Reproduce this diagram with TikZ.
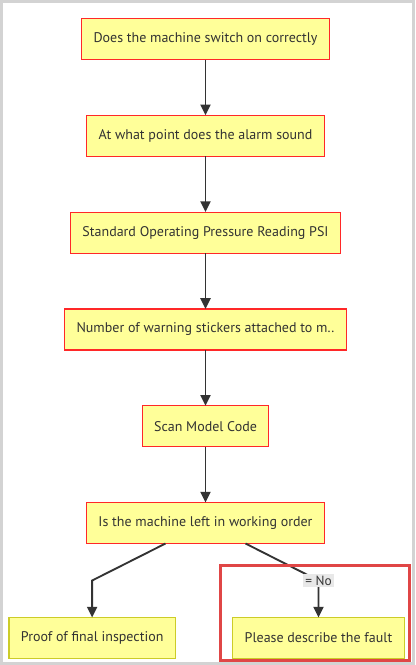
\documentclass[tikz,border=0pt]{standalone}
\usepackage{fontspec}
\setmainfont{PT Sans}
\usepackage{tikz}
\usetikzlibrary{arrows.meta, positioning}
\definecolor{qFill}{RGB}{255,255,153}
\definecolor{qRed}{RGB}{255,40,40}
\definecolor{leafLine}{RGB}{204,204,40}
\definecolor{textGray}{RGB}{51,51,51}
\definecolor{hiRed}{RGB}{224,70,70}
\definecolor{frameGray}{RGB}{211,211,211}

\begin{document}
\begin{tikzpicture}[
  x=0.75pt, y=-0.75pt,
  node distance=41.85pt,
  q/.style={rectangle, draw=qRed, line width=0.9pt, fill=qFill,
            text=textGray, font=\fontsize{10.5}{12}\selectfont,
            minimum height=30.75pt, inner xsep=9pt, inner ysep=2pt,
            outer sep=0pt},
  leaf/.style={q, draw=leafLine},
  arr/.style={-{Triangle[length=8pt,width=7.5pt]}, line width=1.4pt, color=textGray},
  lbl/.style={fill=black!9, text=textGray, font=\fontsize{10}{11}\selectfont,
              inner sep=1.5pt},
]

%% Frame
\fill[frameGray] (0,0) rectangle (415,665);
\fill[white] (3,3) rectangle (412,662);

%% Nodes
\node[q] (power) at (205.5,39) {Does the machine switch on correctly};
\node[q, below=of power]  (alarm)    {At what point does the alarm sound};
\node[q, below=of alarm]  (pressure) {Standard Operating Pressure Reading PSI};
\node[q, below=of pressure] (stickers) {Number of warning stickers attached to m..};
\node[q, below=of stickers] (model)  {Scan Model Code};
\node[q, below=of model]  (working)  {Is the machine left in working order};

\node[leaf, below=55.5pt of working, xshift=-85pt] (proof) {Proof of final inspection};
\node[leaf, below=55.5pt of working, xshift=84.75pt] (fault) {Please describe the fault};

%% Edges
\draw[arr] (power)    -- (alarm);
\draw[arr] (alarm)    -- (pressure);
\draw[arr] (pressure) -- (stickers);
\draw[arr] (stickers) -- (model);
\draw[arr] (model)    -- (working);
\draw[arr] ([xshift=-30pt]working.south) -- ([yshift=27.75pt]proof.north) -- (proof.north);
\draw[arr] ([xshift=30pt]working.south) -- ([yshift=27.75pt]fault.north)
  node[lbl] {= No} -- (fault.north);

%% Highlight
\draw[hiRed, line width=2.25pt] (220,565) rectangle (409.5,660);
\end{tikzpicture}
\end{document}
